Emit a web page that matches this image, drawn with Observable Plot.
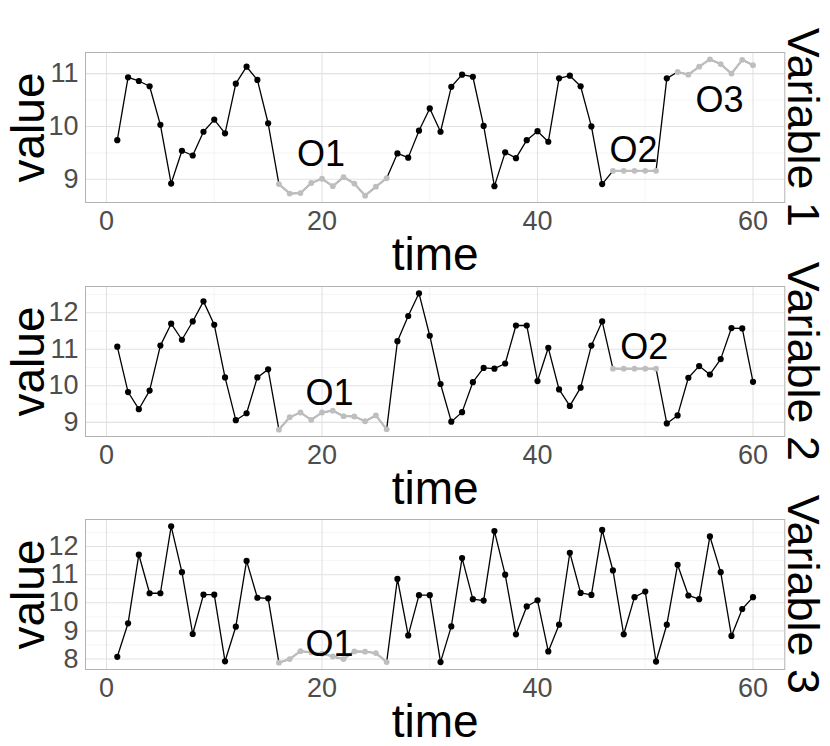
<!DOCTYPE html>
<html>
<head>
<meta charset="utf-8">
<script src="https://cdn.jsdelivr.net/npm/d3@7"></script>
<script src="https://cdn.jsdelivr.net/npm/@observablehq/plot@0.6"></script>
<style>
  html, body { margin: 0; padding: 0; background: #ffffff; overflow: hidden; }
  #chart { position: relative; width: 830px; height: 746px; }
  #chart svg { position: absolute; left: 0; overflow: visible; }
</style>
</head>
<body>
<div id="chart"></div>
<script>
// ---- data ----
const time = [1,2,3,4,5,6,7,8,9,10,11,12,13,14,15,16,17,18,19,20,
  21,22,23,24,25,26,27,28,29,30,31,32,33,34,35,36,37,38,39,40,
  41,42,43,44,45,46,47,48,49,50,51,52,53,54,55,56,57,58,59,60];

const variable1 = [9.74,10.93,10.86,10.76,10.03,8.92,9.54,9.45,9.90,10.13,
  9.87,10.81,11.13,10.88,10.06,8.91,8.73,8.74,8.93,9.01,
  8.87,9.04,8.92,8.69,8.86,9.02,9.49,9.41,9.92,10.34,
  9.90,10.75,10.98,10.94,10.01,8.87,9.51,9.40,9.74,9.91,
  9.71,10.91,10.96,10.76,10.00,8.91,9.16,9.16,9.16,9.16,
  9.16,10.91,11.03,10.98,11.13,11.27,11.18,11.00,11.26,11.16];

const variable2 = [11.07,9.83,9.36,9.87,11.10,11.70,11.26,11.76,12.31,11.67,
  10.23,9.06,9.25,10.23,10.45,8.80,9.14,9.27,9.07,9.27,
  9.32,9.17,9.16,9.03,9.19,8.81,11.22,11.91,12.53,11.37,
  10.05,9.02,9.28,10.10,10.49,10.47,10.61,11.65,11.65,10.13,
  11.04,9.90,9.45,9.95,11.10,11.76,10.47,10.47,10.47,10.47,
  10.47,8.97,9.19,10.22,10.54,10.31,10.73,11.58,11.57,10.11];

const variable3 = [8.08,9.27,11.71,10.34,10.34,12.72,11.09,8.89,10.29,10.29,
  7.92,9.15,11.49,10.18,10.16,7.87,8.00,8.28,8.24,8.19,
  8.09,8.00,8.27,8.26,8.21,7.89,10.85,8.84,10.27,10.27,
  7.89,9.16,11.59,10.13,10.08,12.55,11.00,8.88,9.87,10.09,
  8.27,9.22,11.78,10.35,10.28,12.59,11.15,8.88,10.20,10.40,
  7.91,9.22,11.35,10.26,10.13,12.36,11.09,8.82,9.78,10.20];

// outlier periods (start / end times)
const outlierStart1 = [16, 47, 53], outlierEnd1 = [26, 51, 60];
const outlierStart2 = [16, 47],     outlierEnd2 = [26, 51];
const outlierStart3 = [16],         outlierEnd3 = [26];

// annotation labels
const labelText1 = ["O1", "O2", "O3"], labelTime1 = [19.9, 48.9, 56.9], labelValue1 = [9.47, 9.55, 10.50];
const labelText2 = ["O1", "O2"],       labelTime2 = [20.7, 49.9],       labelValue2 = [9.80, 11.05];
const labelText3 = ["O1"],             labelTime3 = [20.7],             labelValue3 = [8.50];

// ticks
const xMajor = [0, 20, 40, 60];
const xMinor = [10, 30, 50];
const yMajor1 = [9, 10, 11],         yMinor1 = [9.5, 10.5];
const yMajor2 = [9, 10, 11, 12],     yMinor2 = [9.5, 10.5, 11.5, 12.5];
const yMajor3 = [8, 9, 10, 11, 12],  yMinor3 = [8.5, 9.5, 10.5, 11.5, 12.5];

const stripLabels = ["Variable 1", "Variable 2", "Variable 3"];

// ---- drawing ----
const FONT = "'Liberation Sans', Arial, Helvetica, sans-serif";
const GREY = "#bebebe";

function panel(values, oStart, oEnd, labText, labTime, labValue, yMajor, yMinor, strip) {
  const data = time.map((t, i) => ({
    t, v: values[i],
    seg: oStart.findIndex((s, k) => t >= s && t <= oEnd[k])
  }));
  const normal = data.filter(d => d.seg < 0);
  const out = data.filter(d => d.seg >= 0);
  const ext = d3.extent(values);
  const pad = (ext[1] - ext[0]) * 0.05;
  const xpad = (time[time.length - 1] - time[0]) * 0.05;
  return Plot.plot({
    width: 830, height: 250,
    marginTop: 20, marginBottom: 80, marginLeft: 85, marginRight: 45.7,
    style: { fontFamily: FONT, overflow: "visible", background: "transparent" },
    x: { domain: [time[0] - xpad, time[time.length - 1] + xpad] },
    y: { domain: [ext[0] - pad, ext[1] + pad] },
    marks: [
      Plot.ruleX(xMinor, { stroke: "#eeeeee", strokeWidth: 0.6 }),
      Plot.ruleY(yMinor, { stroke: "#eeeeee", strokeWidth: 0.6 }),
      Plot.ruleX(xMajor, { stroke: "#e2e2e2", strokeWidth: 1.1 }),
      Plot.ruleY(yMajor, { stroke: "#e2e2e2", strokeWidth: 1.1 }),
      Plot.frame({ stroke: "#b3b3b3", strokeWidth: 1 }),
      Plot.axisX({ ticks: xMajor, tickSize: 0, tickPadding: 8, fontSize: 27, fill: "#4d4d4d", label: null, tickFormat: d => String(d) }),
      Plot.axisY({ ticks: yMajor, tickSize: 0, tickPadding: 7, fontSize: 27, fill: "#4d4d4d", label: null, tickFormat: d => String(d) }),
      Plot.line(data, { x: "t", y: "v", stroke: "black", strokeWidth: 1.3 }),
      Plot.line(out, { x: "t", y: "v", z: "seg", stroke: GREY, strokeWidth: 2.2 }),
      Plot.dot(normal, { x: "t", y: "v", r: 3.1, fill: "black" }),
      Plot.dot(out, { x: "t", y: "v", r: 2.9, fill: GREY }),
      Plot.text(labText, { x: (d, i) => labTime[i], y: (d, i) => labValue[i], text: d => d, fontSize: 36, fill: "black", textAnchor: "middle", lineAnchor: "middle" }),
      Plot.text(["time"], { frameAnchor: "bottom", dy: 53, text: d => d, fontSize: 46, fill: "black", textAnchor: "middle", lineAnchor: "middle" }),
      Plot.text(["value"], { frameAnchor: "left", dx: -56, rotate: -90, text: d => d, fontSize: 46, fill: "black", textAnchor: "middle", lineAnchor: "middle" }),
      Plot.text([strip], { frameAnchor: "right", dx: 18, rotate: 90, text: d => d, fontSize: 45, fill: "black", textAnchor: "middle", lineAnchor: "middle" })
    ]
  });
}

const chart = document.getElementById("chart");
const panels = [
  [variable1, outlierStart1, outlierEnd1, labelText1, labelTime1, labelValue1, yMajor1, yMinor1, stripLabels[0], 32.3],
  [variable2, outlierStart2, outlierEnd2, labelText2, labelTime2, labelValue2, yMajor2, yMinor2, stripLabels[1], 265.7],
  [variable3, outlierStart3, outlierEnd3, labelText3, labelTime3, labelValue3, yMajor3, yMinor3, stripLabels[2], 499.3]
];
for (const p of panels) {
  const svg = panel(...p.slice(0, 9));
  svg.style.top = p[9] + "px";
  chart.appendChild(svg);
}
</script>
</body>
</html>
